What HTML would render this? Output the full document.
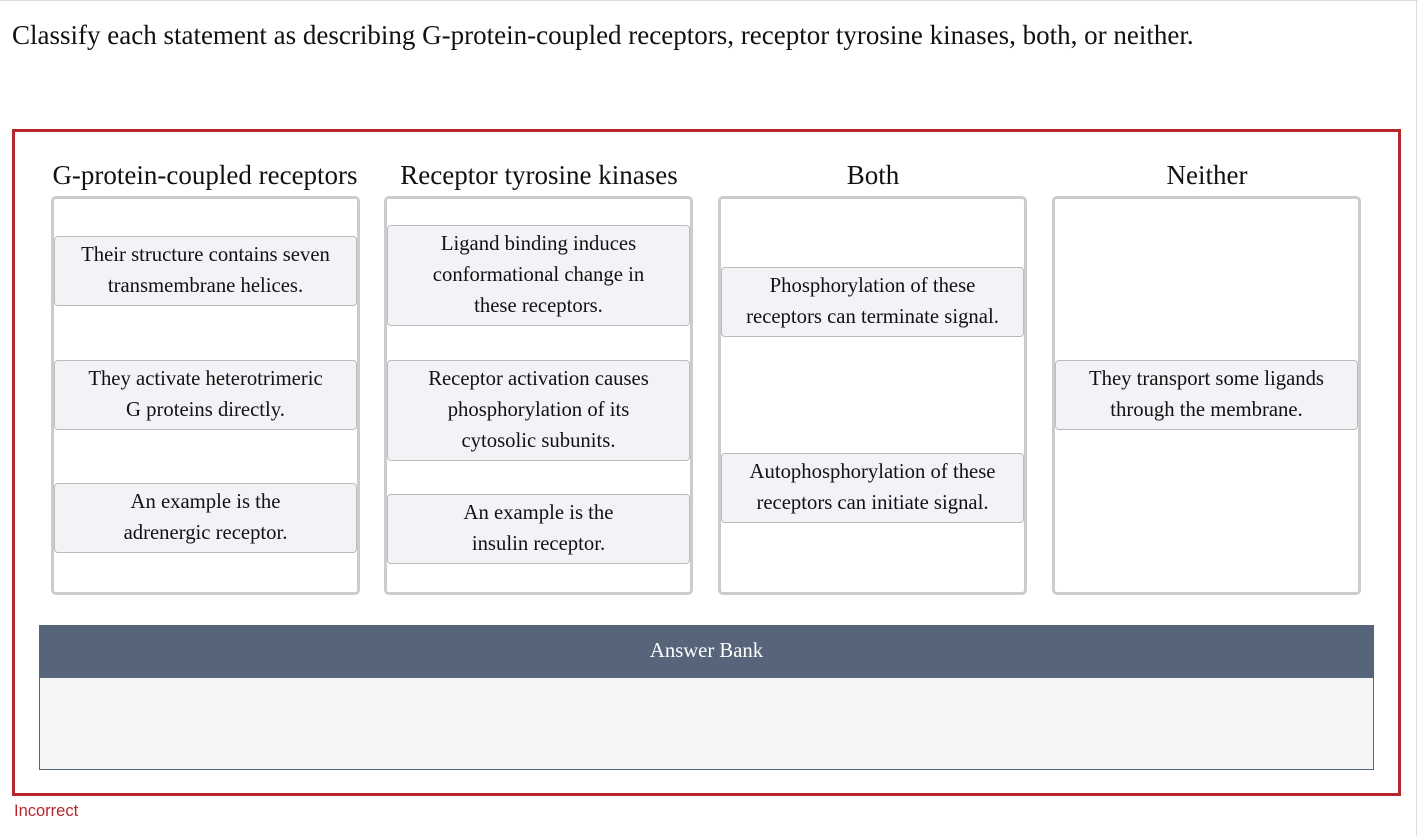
<!DOCTYPE html>
<html><head><meta charset="utf-8"><style>
body{margin:0;width:1418px;height:836px;background:#fff;position:relative;overflow:hidden;font-family:"Liberation Serif",serif;color:#111}
.a{position:absolute}
.t{position:absolute;top:158px;font-size:27px;text-align:center;width:308px;line-height:34px;white-space:nowrap}
.col{position:absolute;top:196px;width:303px;height:393px;border:3px solid #ccc;border-radius:5px;background:#fff}
.c{position:absolute;width:301px;border:1px solid #bbb;border-radius:4px;background:#f2f3f6;font-size:20.7px;line-height:31px;text-align:center;display:flex;align-items:center;justify-content:center;white-space:nowrap}
</style></head><body>
<div class="a" style="left:0;top:0;width:1418px;height:1px;background:#ddd"></div>
<div class="a" style="left:1416px;top:0;width:1px;height:836px;background:#ddd"></div>
<div class="a" style="left:12px;top:15px;font-size:27px;line-height:40px;white-space:nowrap">Classify each statement as describing G-protein-coupled receptors, receptor tyrosine kinases, both, or neither.</div>
<div class="a" style="left:12px;top:129px;width:1383px;height:661px;border:3px solid #b5272d"></div>
<div class="t" style="left:51px">G-protein-coupled receptors</div>
<div class="t" style="left:385px">Receptor tyrosine kinases</div>
<div class="t" style="left:719px">Both</div>
<div class="t" style="left:1053px">Neither</div>
<div class="col" style="left:51px"></div>
<div class="col" style="left:384px"></div>
<div class="col" style="left:718px"></div>
<div class="col" style="left:1052px"></div>
<div class="c" style="left:54px;top:236px;height:68px">Their structure contains seven<br>transmembrane helices.</div>
<div class="c" style="left:54px;top:360px;height:68px">They activate heterotrimeric<br>G proteins directly.</div>
<div class="c" style="left:54px;top:483px;height:68px">An example is the<br>adrenergic receptor.</div>
<div class="c" style="left:387px;top:225px;height:99px">Ligand binding induces<br>conformational change in<br>these receptors.</div>
<div class="c" style="left:387px;top:360px;height:99px">Receptor activation causes<br>phosphorylation of its<br>cytosolic subunits.</div>
<div class="c" style="left:387px;top:494px;height:68px">An example is the<br>insulin receptor.</div>
<div class="c" style="left:721px;top:267px;height:68px">Phosphorylation of these<br>receptors can terminate signal.</div>
<div class="c" style="left:721px;top:453px;height:68px">Autophosphorylation of these<br>receptors can initiate signal.</div>
<div class="c" style="left:1055px;top:360px;height:68px">They transport some ligands<br>through the membrane.</div>
<div class="a" style="left:39px;top:625px;width:1333px;height:143px;border:1px solid #56657a;background:#f6f6f6"></div>
<div class="a" style="left:39px;top:625px;width:1335px;height:53px;background:#56657a;color:#fff;font-size:20.7px;line-height:53px;text-align:center">Answer Bank</div>
<div class="a" style="left:14px;top:802px;font-family:'Liberation Sans',sans-serif;font-size:16.5px;color:#b5272d">Incorrect</div>
</body></html>
